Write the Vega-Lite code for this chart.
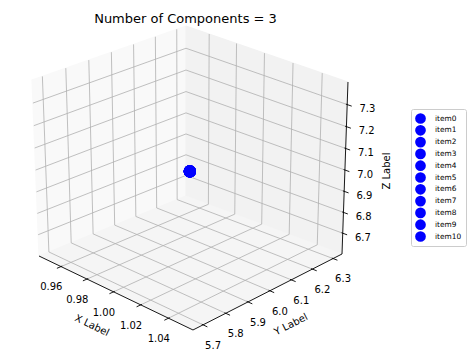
{
  "$schema": "https://vega.github.io/schema/vega-lite/v6.json",
  "width": 474,
  "height": 359,
  "autosize": {"type": "fit", "contains": "padding"},
  "padding": 0,
  "background": "white",
  "config": {"view": {"stroke": null}, "font": "DejaVu Sans"},
  "title": {"text": "Number of Components = 3", "frame": "group", "anchor": "middle", "orient": "top", "offset": -36, "baseline": "alphabetic", "dx": -51.5, "font": "DejaVu Sans", "fontSize": 13, "fontWeight": "normal", "color": "#000000"},
  "data": {"values": [
    {"kind": "pane", "pane": "x", "k": 0}, {"kind": "pane", "pane": "x", "k": 1}, {"kind": "pane", "pane": "x", "k": 2}, {"kind": "pane", "pane": "x", "k": 3},
    {"kind": "pane", "pane": "y", "k": 0}, {"kind": "pane", "pane": "y", "k": 1}, {"kind": "pane", "pane": "y", "k": 2}, {"kind": "pane", "pane": "y", "k": 3},
    {"kind": "pane", "pane": "z", "k": 0}, {"kind": "pane", "pane": "z", "k": 1}, {"kind": "pane", "pane": "z", "k": 2}, {"kind": "pane", "pane": "z", "k": 3},
    {"kind": "tick", "axis": "x", "v": 0.96}, {"kind": "tick", "axis": "x", "v": 0.98}, {"kind": "tick", "axis": "x", "v": 1.0}, {"kind": "tick", "axis": "x", "v": 1.02}, {"kind": "tick", "axis": "x", "v": 1.04},
    {"kind": "tick", "axis": "y", "v": 5.7}, {"kind": "tick", "axis": "y", "v": 5.8}, {"kind": "tick", "axis": "y", "v": 5.9}, {"kind": "tick", "axis": "y", "v": 6.0}, {"kind": "tick", "axis": "y", "v": 6.1}, {"kind": "tick", "axis": "y", "v": 6.2}, {"kind": "tick", "axis": "y", "v": 6.3},
    {"kind": "tick", "axis": "z", "v": 6.7}, {"kind": "tick", "axis": "z", "v": 6.8}, {"kind": "tick", "axis": "z", "v": 6.9}, {"kind": "tick", "axis": "z", "v": 7.0}, {"kind": "tick", "axis": "z", "v": 7.1}, {"kind": "tick", "axis": "z", "v": 7.2}, {"kind": "tick", "axis": "z", "v": 7.3},
    {"kind": "axis", "axis": "x", "title": "X Label"}, {"kind": "axis", "axis": "y", "title": "Y Label"}, {"kind": "axis", "axis": "z", "title": "Z Label"},
    {"kind": "point", "item": "item0", "x": 1.0, "y": 6.0, "z": 7.0},
    {"kind": "point", "item": "item1", "x": 1.0, "y": 6.0, "z": 7.0},
    {"kind": "point", "item": "item2", "x": 1.0, "y": 6.0, "z": 7.0},
    {"kind": "point", "item": "item3", "x": 1.0, "y": 6.0, "z": 7.0},
    {"kind": "point", "item": "item4", "x": 1.0, "y": 6.0, "z": 7.0},
    {"kind": "point", "item": "item5", "x": 1.0, "y": 6.0, "z": 7.0},
    {"kind": "point", "item": "item6", "x": 1.0, "y": 6.0, "z": 7.0},
    {"kind": "point", "item": "item7", "x": 1.0, "y": 6.0, "z": 7.0},
    {"kind": "point", "item": "item8", "x": 1.0, "y": 6.0, "z": 7.0},
    {"kind": "point", "item": "item9", "x": 1.0, "y": 6.0, "z": 7.0},
    {"kind": "point", "item": "item10", "x": 1.0, "y": 6.0, "z": 7.0}
  ]},
  "transform": [
    {"calculate": "datum.axis==='x' ? (datum.v-0.942708)/0.114583 : datum.axis==='y' ? (datum.v-5.65625)/0.6875 : (datum.v-6.598958)/0.802083", "as": "t"},
    {"calculate": "(datum.k===1||datum.k===2) ? 1 : 0", "as": "u"},
    {"calculate": "datum.k>=2 ? 1 : 0", "as": "w"},
    {"calculate": "datum.kind==='pane' ? (datum.pane==='x' ? 0 : datum.u) : datum.kind==='tick' ? (datum.axis==='x' ? datum.t : 1) : datum.kind==='axis' ? (datum.axis==='x' ? 0 : 1) : (datum.x-0.942708)/0.114583", "as": "a1"},
    {"calculate": "datum.kind==='pane' ? (datum.pane==='x' ? datum.u : datum.pane==='y' ? 1 : datum.w) : datum.kind==='tick' ? (datum.axis==='x' ? 0 : datum.axis==='y' ? datum.t : 1) : datum.kind==='axis' ? (datum.axis==='z' ? 1 : 0) : (datum.y-5.65625)/0.6875", "as": "b1"},
    {"calculate": "datum.kind==='pane' ? (datum.pane==='z' ? 0 : datum.w) : datum.kind==='tick' ? (datum.axis==='z' ? datum.t : 0) : datum.kind==='axis' ? 0 : (datum.z-6.598958)/0.802083", "as": "c1"},
    {"calculate": "datum.kind==='tick' ? (datum.axis==='x' ? datum.t : 0) : datum.kind==='axis' ? 1 : datum.a1", "as": "a2"},
    {"calculate": "datum.kind==='tick' ? (datum.axis==='y' ? datum.t : 1) : datum.kind==='axis' ? (datum.axis==='x' ? 0 : 1) : datum.b1", "as": "b2"},
    {"calculate": "datum.kind==='tick' ? (datum.axis==='z' ? datum.t : 0) : datum.kind==='axis' ? (datum.axis==='z' ? 1 : 0) : datum.c1", "as": "c2"},
    {"calculate": "datum.axis==='x' ? datum.t : 0", "as": "a3"},
    {"calculate": "datum.axis==='x' ? 1 : datum.axis==='y' ? datum.t : 0", "as": "b3"},
    {"calculate": "datum.axis==='z' ? datum.t : 1", "as": "c3"},
    {"calculate": "10.235-0.6243*datum.a1+0.6243*datum.b1-0.4694*datum.c1", "as": "D1"},
    {"calculate": "(399.17+1455.56*datum.a1+1620.6*datum.b1-86.69*datum.c1+25.04*datum.a1*datum.b1+0.74*datum.a1*datum.c1-0.54*datum.b1*datum.c1-15.66*datum.a1*datum.b1*datum.c1)/datum.D1", "as": "X1"},
    {"calculate": "(2620.16+551.14*datum.a1-491.8*datum.b1-1838.96*datum.c1-79.81*datum.a1*datum.b1+2.25*datum.a1*datum.c1-19.26*datum.b1*datum.c1+57.01*datum.a1*datum.b1*datum.c1)/datum.D1", "as": "Y1"},
    {"calculate": "10.235-0.6243*datum.a2+0.6243*datum.b2-0.4694*datum.c2", "as": "D2"},
    {"calculate": "(399.17+1455.56*datum.a2+1620.6*datum.b2-86.69*datum.c2+25.04*datum.a2*datum.b2+0.74*datum.a2*datum.c2-0.54*datum.b2*datum.c2-15.66*datum.a2*datum.b2*datum.c2)/datum.D2", "as": "X2"},
    {"calculate": "(2620.16+551.14*datum.a2-491.8*datum.b2-1838.96*datum.c2-79.81*datum.a2*datum.b2+2.25*datum.a2*datum.c2-19.26*datum.b2*datum.c2+57.01*datum.a2*datum.b2*datum.c2)/datum.D2", "as": "Y2"},
    {"calculate": "10.235-0.6243*datum.a3+0.6243*datum.b3-0.4694*datum.c3", "as": "D3"},
    {"calculate": "(399.17+1455.56*datum.a3+1620.6*datum.b3-86.69*datum.c3+25.04*datum.a3*datum.b3+0.74*datum.a3*datum.c3-0.54*datum.b3*datum.c3-15.66*datum.a3*datum.b3*datum.c3)/datum.D3", "as": "X3"},
    {"calculate": "(2620.16+551.14*datum.a3-491.8*datum.b3-1838.96*datum.c3-79.81*datum.a3*datum.b3+2.25*datum.a3*datum.c3-19.26*datum.b3*datum.c3+57.01*datum.a3*datum.b3*datum.c3)/datum.D3", "as": "Y3"},
    {"calculate": "datum.X1+0.008*(datum.X2-datum.X1)", "as": "TXa"},
    {"calculate": "datum.Y1+0.008*(datum.Y2-datum.Y1)", "as": "TYa"},
    {"calculate": "datum.X1-0.028*(datum.X2-datum.X1)", "as": "TXb"},
    {"calculate": "datum.Y1-0.028*(datum.Y2-datum.Y1)", "as": "TYb"},
    {"calculate": "datum.X1+(datum.axis==='x' ? -9.7 : datum.axis==='y' ? 10 : 20.2)", "as": "LX"},
    {"calculate": "datum.Y1+(datum.axis==='z' ? 4.8 : 20.9)", "as": "LY"},
    {"calculate": "(datum.X1+datum.X2)/2+(datum.axis==='x' ? -24 : datum.axis==='y' ? 23.5 : 42)", "as": "MX"},
    {"calculate": "(datum.Y1+datum.Y2)/2+(datum.axis==='z' ? 3 : 32.6)", "as": "MY"},
    {"calculate": "datum.axis==='x' ? 25.7 : datum.axis==='y' ? -27 : -90", "as": "ang"},
    {"calculate": "format(datum.v, datum.axis==='x' ? '.2f' : '.1f')", "as": "lab"}
  ],
  "layer": [
    {
      "transform": [{"filter": "datum.kind==='pane' && datum.pane==='x'"}],
      "mark": {"type": "line", "interpolate": "linear-closed", "fill": "#f9f9f9", "stroke": "#f9f9f9", "strokeWidth": 1},
      "encoding": {
        "x": {"field": "X1", "type": "quantitative", "scale": {"domain": [0, 474], "nice": false, "zero": false}, "axis": null},
        "y": {"field": "Y1", "type": "quantitative", "scale": {"domain": [0, 359], "reverse": true, "nice": false, "zero": false}, "axis": null},
        "order": {"field": "k", "type": "quantitative"}
      }
    },
    {
      "transform": [{"filter": "datum.kind==='pane' && datum.pane==='y'"}],
      "mark": {"type": "line", "interpolate": "linear-closed", "fill": "#f2f2f2", "stroke": "#f2f2f2", "strokeWidth": 1},
      "encoding": {
        "x": {"field": "X1", "type": "quantitative", "scale": {"domain": [0, 474], "nice": false, "zero": false}, "axis": null},
        "y": {"field": "Y1", "type": "quantitative", "scale": {"domain": [0, 359], "reverse": true, "nice": false, "zero": false}, "axis": null},
        "order": {"field": "k", "type": "quantitative"}
      }
    },
    {
      "transform": [{"filter": "datum.kind==='pane' && datum.pane==='z'"}],
      "mark": {"type": "line", "interpolate": "linear-closed", "fill": "#f5f5f5", "stroke": "#f5f5f5", "strokeWidth": 1},
      "encoding": {
        "x": {"field": "X1", "type": "quantitative", "scale": {"domain": [0, 474], "nice": false, "zero": false}, "axis": null},
        "y": {"field": "Y1", "type": "quantitative", "scale": {"domain": [0, 359], "reverse": true, "nice": false, "zero": false}, "axis": null},
        "order": {"field": "k", "type": "quantitative"}
      }
    },
    {
      "transform": [{"filter": "datum.kind==='tick'"}],
      "mark": {"type": "rule", "color": "#b0b0b0", "strokeWidth": 0.8},
      "encoding": {
        "x": {"field": "X1", "type": "quantitative", "scale": {"domain": [0, 474], "nice": false, "zero": false}, "axis": null},
        "y": {"field": "Y1", "type": "quantitative", "scale": {"domain": [0, 359], "reverse": true, "nice": false, "zero": false}, "axis": null},
        "x2": {"field": "X2"},
        "y2": {"field": "Y2"}
      }
    },
    {
      "transform": [{"filter": "datum.kind==='tick'"}],
      "mark": {"type": "rule", "color": "#b0b0b0", "strokeWidth": 0.8},
      "encoding": {
        "x": {"field": "X2", "type": "quantitative", "scale": {"domain": [0, 474], "nice": false, "zero": false}, "axis": null},
        "y": {"field": "Y2", "type": "quantitative", "scale": {"domain": [0, 359], "reverse": true, "nice": false, "zero": false}, "axis": null},
        "x2": {"field": "X3"},
        "y2": {"field": "Y3"}
      }
    },
    {
      "transform": [{"filter": "datum.kind==='axis'"}],
      "mark": {"type": "rule", "color": "#000000", "strokeWidth": 0.9},
      "encoding": {
        "x": {"field": "X1", "type": "quantitative", "scale": {"domain": [0, 474], "nice": false, "zero": false}, "axis": null},
        "y": {"field": "Y1", "type": "quantitative", "scale": {"domain": [0, 359], "reverse": true, "nice": false, "zero": false}, "axis": null},
        "x2": {"field": "X2"},
        "y2": {"field": "Y2"}
      }
    },
    {
      "transform": [{"filter": "datum.kind==='tick'"}],
      "mark": {"type": "rule", "color": "#000000", "strokeWidth": 0.9},
      "encoding": {
        "x": {"field": "TXa", "type": "quantitative", "scale": {"domain": [0, 474], "nice": false, "zero": false}, "axis": null},
        "y": {"field": "TYa", "type": "quantitative", "scale": {"domain": [0, 359], "reverse": true, "nice": false, "zero": false}, "axis": null},
        "x2": {"field": "TXb"},
        "y2": {"field": "TYb"}
      }
    },
    {
      "transform": [{"filter": "datum.kind==='tick'"}],
      "mark": {"type": "text", "font": "DejaVu Sans", "fontSize": 10, "color": "#000000", "align": "center", "baseline": "middle"},
      "encoding": {
        "x": {"field": "LX", "type": "quantitative", "scale": {"domain": [0, 474], "nice": false, "zero": false}, "axis": null},
        "y": {"field": "LY", "type": "quantitative", "scale": {"domain": [0, 359], "reverse": true, "nice": false, "zero": false}, "axis": null},
        "text": {"field": "lab", "type": "nominal"}
      }
    },
    {
      "transform": [{"filter": "datum.kind==='axis'"}],
      "mark": {"type": "text", "font": "DejaVu Sans", "fontSize": 10, "color": "#000000", "align": "center", "baseline": "middle"},
      "encoding": {
        "x": {"field": "MX", "type": "quantitative", "scale": {"domain": [0, 474], "nice": false, "zero": false}, "axis": null},
        "y": {"field": "MY", "type": "quantitative", "scale": {"domain": [0, 359], "reverse": true, "nice": false, "zero": false}, "axis": null},
        "text": {"field": "title", "type": "nominal"},
        "angle": {"field": "ang", "type": "quantitative", "scale": null}
      }
    },
    {
      "transform": [{"filter": "datum.kind==='point'"}],
      "mark": {"type": "point", "shape": "circle", "filled": true, "size": 150, "opacity": 1, "strokeWidth": 0},
      "encoding": {
        "x": {"field": "X1", "type": "quantitative", "scale": {"domain": [0, 474], "nice": false, "zero": false}, "axis": null},
        "y": {"field": "Y1", "type": "quantitative", "scale": {"domain": [0, 359], "reverse": true, "nice": false, "zero": false}, "axis": null},
        "color": {
          "field": "item", "type": "nominal",
          "scale": {"domain": ["item0", "item1", "item2", "item3", "item4", "item5", "item6", "item7", "item8", "item9", "item10"], "range": ["#0000ff", "#0000ff", "#0000ff", "#0000ff", "#0000ff", "#0000ff", "#0000ff", "#0000ff", "#0000ff", "#0000ff", "#0000ff"]},
          "legend": {"title": null, "orient": "none", "legendX": 411, "legendY": 109, "direction": "vertical", "symbolType": "circle", "symbolSize": 115, "symbolStrokeWidth": 0, "symbolOpacity": 1, "labelFont": "DejaVu Sans", "labelFontSize": 7.4, "labelColor": "#000000", "labelOffset": 9, "rowPadding": 0.8, "padding": 4, "strokeColor": "#cccccc", "fillColor": "#ffffff", "cornerRadius": 2}
        }
      }
    }
  ]
}
